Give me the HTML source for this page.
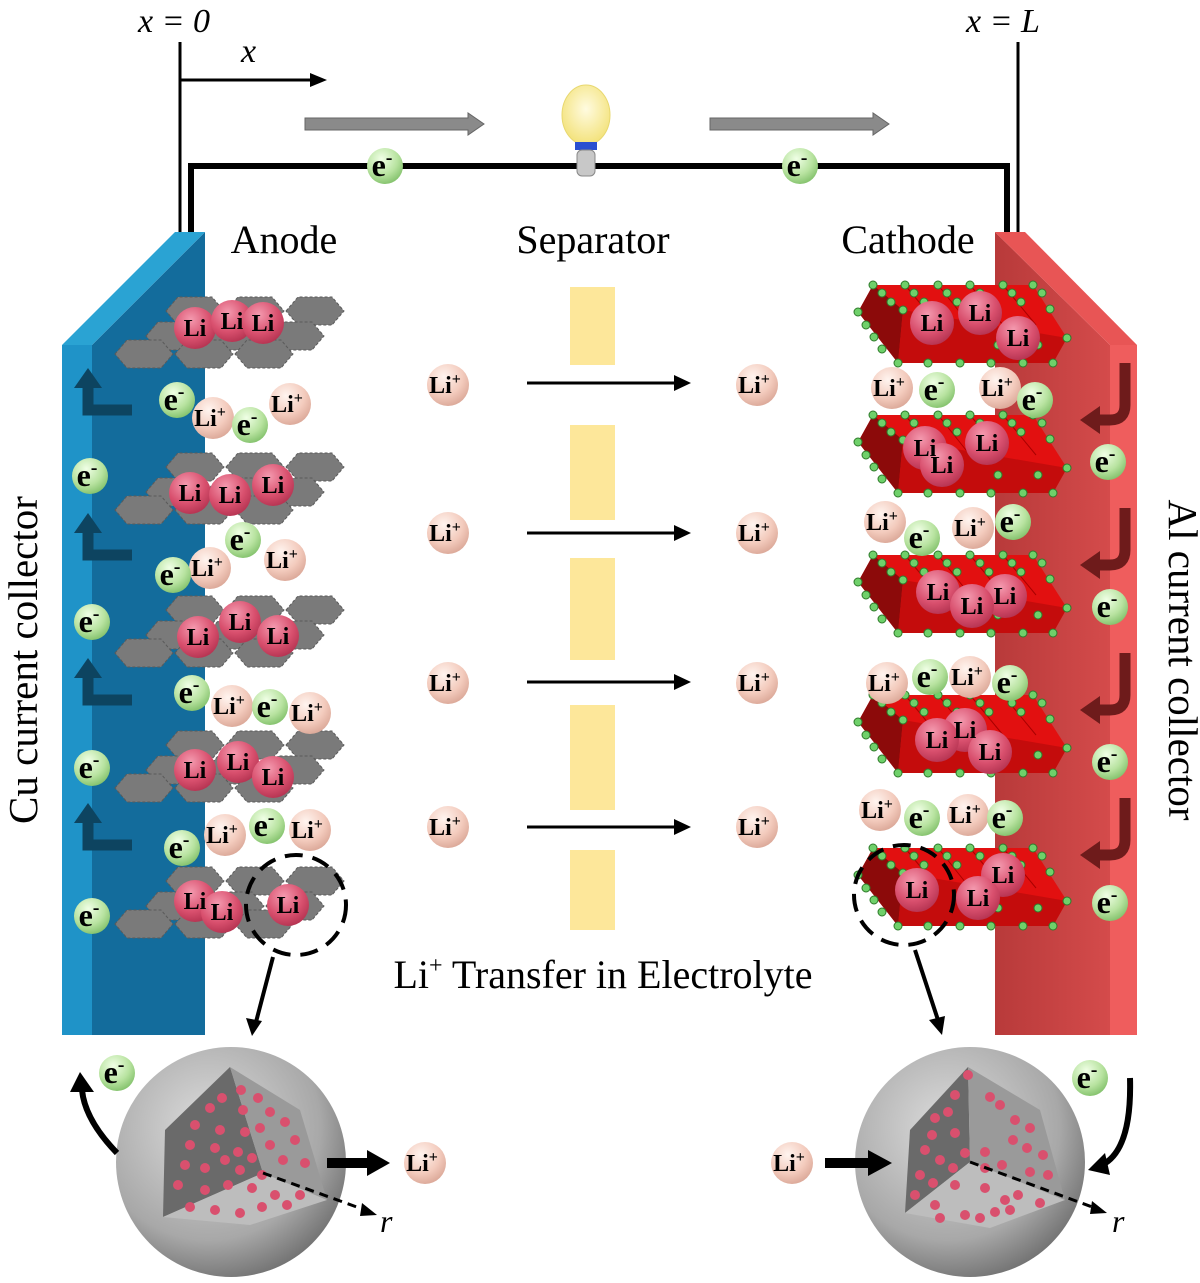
<!DOCTYPE html>
<html><head><meta charset="utf-8"><style>
html,body{margin:0;padding:0;background:#fff}
svg{display:block}
text{font-family:"Liberation Serif",serif}
.b{font-weight:bold;font-size:24px;text-anchor:middle}
.e{font-weight:bold;font-size:32px;text-anchor:middle}
</style></head><body>
<svg width="1200" height="1283" viewBox="0 0 1200 1283" xmlns="http://www.w3.org/2000/svg">
<defs>
<radialGradient id="gLi" cx="0.4" cy="0.3" r="0.75"><stop offset="0" stop-color="#f49aaf"/><stop offset="0.6" stop-color="#d9506e"/><stop offset="1" stop-color="#b2314f"/></radialGradient>
<radialGradient id="gLp" cx="0.4" cy="0.3" r="0.75"><stop offset="0" stop-color="#fff4ef"/><stop offset="0.6" stop-color="#f3cbbd"/><stop offset="1" stop-color="#d9a595"/></radialGradient>
<radialGradient id="gE" cx="0.4" cy="0.3" r="0.75"><stop offset="0" stop-color="#f0ffe6"/><stop offset="0.6" stop-color="#b8e3a0"/><stop offset="1" stop-color="#7fbf68"/></radialGradient>
<radialGradient id="gS" cx="0.4" cy="0.35" r="0.7"><stop offset="0" stop-color="#dcdcdc"/><stop offset="0.7" stop-color="#a8a8a8"/><stop offset="1" stop-color="#6e6e6e"/></radialGradient>
<radialGradient id="gB" cx="0.5" cy="0.4" r="0.6"><stop offset="0" stop-color="#fffbe0"/><stop offset="1" stop-color="#f3e27a"/></radialGradient>
<linearGradient id="gRed" x1="0" x2="1"><stop offset="0" stop-color="#b83a3a"/><stop offset="1" stop-color="#d44b4b"/></linearGradient>
<g id="sheet" fill="#7a7a7a" stroke="#5a5a5a" stroke-width="1" stroke-dasharray="3,2">
<polygon points="51,15 63,1 97,1 109,15 97,29 63,29"/>
<polygon points="111,15 123,1 157,1 169,15 157,29 123,29"/>
<polygon points="171,15 183,1 217,1 229,15 217,29 183,29"/>
<polygon points="31,40 43,26 77,26 89,40 77,54 43,54"/>
<polygon points="91,40 103,26 137,26 149,40 137,54 103,54"/>
<polygon points="151,40 163,26 197,26 209,40 197,54 163,54"/>
<polygon points="0,58 12,44 46,44 58,58 46,72 12,72"/>
<polygon points="60,58 72,44 106,44 118,58 106,72 72,72"/>
<polygon points="120,58 132,44 166,44 178,58 166,72 132,72"/>
</g>
<g id="prism">
<polygon points="15,0 175,0 209,53 195,78 40,78 0,27" fill="#e21010"/>
<polygon points="0,27 15,0 45,25 40,78" fill="#8c0a0a"/>
<polygon points="45,25 209,53 195,78 40,78" fill="#c40c0c"/>
<g stroke="#a00" stroke-width="1" fill="none"><path d="M47,0 L80,40 M80,0 L112,40 M112,0 L145,40 M145,0 L178,40"/></g>
<g fill="#6fd06a" stroke="#2e7a2a" stroke-width="1">
<circle cx="15" cy="0" r="4"/><circle cx="47" cy="0" r="4"/><circle cx="80" cy="0" r="4"/><circle cx="112" cy="0" r="4"/><circle cx="145" cy="0" r="4"/><circle cx="175" cy="0" r="4"/>
<circle cx="24" cy="8" r="4"/><circle cx="56" cy="8" r="4"/><circle cx="89" cy="8" r="4"/><circle cx="122" cy="8" r="4"/><circle cx="154" cy="8" r="4"/><circle cx="184" cy="8" r="4"/>
<circle cx="33" cy="17" r="4"/><circle cx="66" cy="17" r="4"/><circle cx="99" cy="17" r="4"/><circle cx="131" cy="17" r="4"/><circle cx="163" cy="17" r="4"/><circle cx="192" cy="24" r="4"/>
<circle cx="0" cy="27" r="4"/><circle cx="8" cy="40" r="4"/><circle cx="16" cy="52" r="4"/><circle cx="24" cy="64" r="4"/><circle cx="209" cy="53" r="4"/>
<circle cx="40" cy="78" r="4"/><circle cx="70" cy="78" r="4"/><circle cx="102" cy="78" r="4"/><circle cx="133" cy="78" r="4"/><circle cx="165" cy="78" r="4"/><circle cx="195" cy="78" r="4"/>
<circle cx="45" cy="25" r="4"/><circle cx="180" cy="60" r="4"/><circle cx="140" cy="60" r="4"/>
</g>
</g>
</defs>

<text x="138" y="32" font-size="34" font-style="italic">x = 0</text>
<text x="966" y="32" font-size="34" font-style="italic">x = L</text>
<line x1="180" y1="42" x2="180" y2="232" stroke="#000" stroke-width="3"/>
<line x1="1018" y1="42" x2="1018" y2="232" stroke="#000" stroke-width="3"/>
<line x1="180" y1="80" x2="312" y2="80" stroke="#000" stroke-width="3"/>
<polygon points="310,73 327,80 310,87" fill="#000"/>
<text x="241" y="62" font-size="34" font-style="italic">x</text>
<path d="M191,232 V166 H1007 V232" fill="none" stroke="#000" stroke-width="6"/>
<polygon points="305,118 468,118 468,113 484,124 468,135 468,130 305,130" fill="#8a8a8a" stroke="#666"/>
<polygon points="710,118 873,118 873,113 889,124 873,135 873,130 710,130" fill="#8a8a8a" stroke="#666"/>
<ellipse cx="586" cy="115" rx="24" ry="30" fill="url(#gB)" stroke="#e8d870"/>
<rect x="575" y="142" width="22" height="8" fill="#2a4fd0"/>
<rect x="577" y="150" width="18" height="26" rx="5" fill="#c8c8c8" stroke="#888"/>

<polygon points="62,345 92,345 92,1035 62,1035" fill="#1f93c8"/>
<polygon points="92,345 205,232 205,1035 92,1035" fill="#136c9c"/>
<polygon points="62,345 175,232 205,232 92,345" fill="#2aa3d3"/>
<polygon points="995,232 1110,345 1110,1035 995,1035" fill="url(#gRed)"/>
<polygon points="1110,345 1137,345 1137,1035 1110,1035" fill="#ef5d5d"/>
<polygon points="995,232 1025,232 1137,345 1110,345" fill="#e85555"/>

<text x="284" y="253" font-size="40" text-anchor="middle">Anode</text>
<text x="593" y="253" font-size="40" text-anchor="middle">Separator</text>
<text x="908" y="253" font-size="40" text-anchor="middle">Cathode</text>

<g fill="#fde79a"><rect x="570" y="287" width="45" height="78"/><rect x="570" y="425" width="45" height="95"/><rect x="570" y="558" width="45" height="102"/><rect x="570" y="705" width="45" height="105"/><rect x="570" y="850" width="45" height="80"/></g>

<g stroke="#000" stroke-width="3"><line x1="527" y1="383" x2="676" y2="383"/><line x1="527" y1="533" x2="676" y2="533"/><line x1="527" y1="682" x2="676" y2="682"/><line x1="527" y1="827" x2="676" y2="827"/></g>
<g fill="#000"><polygon points="674,375 691,383 674,391"/><polygon points="674,525 691,533 674,541"/><polygon points="674,674 691,682 674,690"/><polygon points="674,819 691,827 674,835"/></g>
<text x="603" y="988" font-size="40" text-anchor="middle">Li<tspan font-size="24" dy="-15">+</tspan><tspan dy="15"> Transfer in Electrolyte</tspan></text>

<text transform="translate(37,660) rotate(-90)" font-size="41" text-anchor="middle">Cu current collector</text>
<text transform="translate(1169,660) rotate(90)" font-size="41" text-anchor="middle">Al current collector</text>

<use href="#sheet" x="115" y="296"/><use href="#sheet" x="115" y="452"/><use href="#sheet" x="115" y="595"/><use href="#sheet" x="115" y="730"/><use href="#sheet" x="115" y="866"/>
<use href="#prism" x="858" y="285"/><use href="#prism" x="858" y="415"/><use href="#prism" x="858" y="555"/><use href="#prism" x="858" y="695"/><use href="#prism" x="858" y="848"/>

<g fill="none" stroke="#0d4460" stroke-width="11">
<path d="M132,410 H88 V386"/><path d="M132,555 H88 V531"/><path d="M132,700 H88 V676"/><path d="M132,845 H88 V821"/>
</g>
<g fill="#0d4460"><polygon points="74,388 102,388 88,368"/><polygon points="74,533 102,533 88,513"/><polygon points="74,678 102,678 88,658"/><polygon points="74,823 102,823 88,803"/></g>
<g fill="none" stroke="#6e1b1b" stroke-width="11">
<path d="M1125,363 V405 Q1125,420 1110,420 H1098"/><path d="M1125,508 V550 Q1125,565 1110,565 H1098"/><path d="M1125,653 V695 Q1125,710 1110,710 H1098"/><path d="M1125,798 V840 Q1125,855 1110,855 H1098"/>
</g>
<g fill="#6e1b1b"><polygon points="1100,406 1100,434 1080,420"/><polygon points="1100,551 1100,579 1080,565"/><polygon points="1100,696 1100,724 1080,710"/><polygon points="1100,841 1100,869 1080,855"/></g>

<g fill="url(#gLi)">
<circle cx="195" cy="328" r="21"/><circle cx="232" cy="321" r="21"/><circle cx="263" cy="323" r="21"/>
<circle cx="190" cy="493" r="21"/><circle cx="230" cy="495" r="21"/><circle cx="273" cy="485" r="21"/>
<circle cx="198" cy="637" r="21"/><circle cx="240" cy="622" r="21"/><circle cx="278" cy="636" r="21"/>
<circle cx="195" cy="770" r="21"/><circle cx="238" cy="762" r="21"/><circle cx="273" cy="777" r="21"/>
<circle cx="195" cy="901" r="21"/><circle cx="222" cy="912" r="21"/><circle cx="288" cy="905" r="21"/>
<circle cx="932" cy="323" r="22"/><circle cx="980" cy="313" r="22"/><circle cx="1018" cy="338" r="22"/>
<circle cx="925" cy="448" r="22"/><circle cx="987" cy="443" r="22"/><circle cx="942" cy="465" r="22"/>
<circle cx="938" cy="592" r="22"/><circle cx="1005" cy="596" r="22"/><circle cx="972" cy="606" r="22"/>
<circle cx="965" cy="730" r="22"/><circle cx="937" cy="740" r="22"/><circle cx="990" cy="752" r="22"/>
<circle cx="917" cy="890" r="22"/><circle cx="1003" cy="875" r="22"/><circle cx="978" cy="898" r="22"/>
</g>
<g>
<text class="b" x="195" y="336">Li</text><text class="b" x="232" y="329">Li</text><text class="b" x="263" y="331">Li</text>
<text class="b" x="190" y="501">Li</text><text class="b" x="230" y="503">Li</text><text class="b" x="273" y="493">Li</text>
<text class="b" x="198" y="645">Li</text><text class="b" x="240" y="630">Li</text><text class="b" x="278" y="644">Li</text>
<text class="b" x="195" y="778">Li</text><text class="b" x="238" y="770">Li</text><text class="b" x="273" y="785">Li</text>
<text class="b" x="195" y="909">Li</text><text class="b" x="222" y="920">Li</text><text class="b" x="288" y="913">Li</text>
<text class="b" x="932" y="331">Li</text><text class="b" x="980" y="321">Li</text><text class="b" x="1018" y="346">Li</text>
<text class="b" x="925" y="456">Li</text><text class="b" x="987" y="451">Li</text><text class="b" x="942" y="473">Li</text>
<text class="b" x="938" y="600">Li</text><text class="b" x="1005" y="604">Li</text><text class="b" x="972" y="614">Li</text>
<text class="b" x="965" y="738">Li</text><text class="b" x="937" y="748">Li</text><text class="b" x="990" y="760">Li</text>
<text class="b" x="917" y="898">Li</text><text class="b" x="1003" y="883">Li</text><text class="b" x="978" y="906">Li</text>
</g>

<g fill="url(#gLp)">
<circle cx="213" cy="418" r="21"/><circle cx="290" cy="404" r="21"/><circle cx="210" cy="568" r="21"/><circle cx="285" cy="560" r="21"/>
<circle cx="232" cy="706" r="21"/><circle cx="310" cy="713" r="21"/><circle cx="225" cy="835" r="21"/><circle cx="310" cy="830" r="21"/>
<circle cx="448" cy="385" r="21"/><circle cx="448" cy="533" r="21"/><circle cx="448" cy="683" r="21"/><circle cx="448" cy="827" r="21"/>
<circle cx="757" cy="385" r="21"/><circle cx="757" cy="533" r="21"/><circle cx="757" cy="683" r="21"/><circle cx="757" cy="827" r="21"/>
<circle cx="892" cy="388" r="21"/><circle cx="1000" cy="388" r="21"/><circle cx="885" cy="522" r="21"/><circle cx="973" cy="528" r="21"/>
<circle cx="887" cy="683" r="21"/><circle cx="970" cy="677" r="21"/><circle cx="880" cy="810" r="21"/><circle cx="968" cy="815" r="21"/>
<circle cx="425" cy="1163" r="21"/><circle cx="792" cy="1163" r="21"/>
</g>
<g>
<text class="b" x="210" y="426">Li<tspan font-size="16" dy="-9">+</tspan></text>
<text class="b" x="287" y="412">Li<tspan font-size="16" dy="-9">+</tspan></text>
<text class="b" x="207" y="576">Li<tspan font-size="16" dy="-9">+</tspan></text>
<text class="b" x="282" y="568">Li<tspan font-size="16" dy="-9">+</tspan></text>
<text class="b" x="229" y="714">Li<tspan font-size="16" dy="-9">+</tspan></text>
<text class="b" x="307" y="721">Li<tspan font-size="16" dy="-9">+</tspan></text>
<text class="b" x="222" y="843">Li<tspan font-size="16" dy="-9">+</tspan></text>
<text class="b" x="307" y="838">Li<tspan font-size="16" dy="-9">+</tspan></text>
<text class="b" x="445" y="393">Li<tspan font-size="16" dy="-9">+</tspan></text>
<text class="b" x="445" y="541">Li<tspan font-size="16" dy="-9">+</tspan></text>
<text class="b" x="445" y="691">Li<tspan font-size="16" dy="-9">+</tspan></text>
<text class="b" x="445" y="835">Li<tspan font-size="16" dy="-9">+</tspan></text>
<text class="b" x="754" y="393">Li<tspan font-size="16" dy="-9">+</tspan></text>
<text class="b" x="754" y="541">Li<tspan font-size="16" dy="-9">+</tspan></text>
<text class="b" x="754" y="691">Li<tspan font-size="16" dy="-9">+</tspan></text>
<text class="b" x="754" y="835">Li<tspan font-size="16" dy="-9">+</tspan></text>
<text class="b" x="889" y="396">Li<tspan font-size="16" dy="-9">+</tspan></text>
<text class="b" x="997" y="396">Li<tspan font-size="16" dy="-9">+</tspan></text>
<text class="b" x="882" y="530">Li<tspan font-size="16" dy="-9">+</tspan></text>
<text class="b" x="970" y="536">Li<tspan font-size="16" dy="-9">+</tspan></text>
<text class="b" x="884" y="691">Li<tspan font-size="16" dy="-9">+</tspan></text>
<text class="b" x="967" y="685">Li<tspan font-size="16" dy="-9">+</tspan></text>
<text class="b" x="877" y="818">Li<tspan font-size="16" dy="-9">+</tspan></text>
<text class="b" x="965" y="823">Li<tspan font-size="16" dy="-9">+</tspan></text>
<text class="b" x="422" y="1171">Li<tspan font-size="16" dy="-9">+</tspan></text>
<text class="b" x="789" y="1171">Li<tspan font-size="16" dy="-9">+</tspan></text>
</g>

<g fill="url(#gE)">
<circle cx="385" cy="166" r="18"/><circle cx="800" cy="166" r="18"/>
<circle cx="177" cy="400" r="18"/><circle cx="250" cy="425" r="18"/><circle cx="243" cy="540" r="18"/><circle cx="173" cy="575" r="18"/>
<circle cx="192" cy="693" r="18"/><circle cx="270" cy="707" r="18"/><circle cx="182" cy="848" r="18"/><circle cx="267" cy="826" r="18"/>
<circle cx="90" cy="476" r="18"/><circle cx="92" cy="622" r="18"/><circle cx="92" cy="768" r="18"/><circle cx="92" cy="916" r="18"/>
<circle cx="937" cy="390" r="18"/><circle cx="1035" cy="400" r="18"/><circle cx="922" cy="538" r="18"/><circle cx="1013" cy="522" r="18"/>
<circle cx="930" cy="677" r="18"/><circle cx="1010" cy="683" r="18"/><circle cx="922" cy="818" r="18"/><circle cx="1005" cy="818" r="18"/>
<circle cx="1108" cy="462" r="18"/><circle cx="1110" cy="607" r="18"/><circle cx="1110" cy="762" r="18"/><circle cx="1110" cy="903" r="18"/>
<circle cx="117" cy="1073" r="18"/><circle cx="1090" cy="1078" r="18"/>
</g>
<g>
<text class="e" x="382" y="176">e<tspan font-size="20" dy="-12">-</tspan></text>
<text class="e" x="797" y="176">e<tspan font-size="20" dy="-12">-</tspan></text>
<text class="e" x="174" y="410">e<tspan font-size="20" dy="-12">-</tspan></text>
<text class="e" x="247" y="435">e<tspan font-size="20" dy="-12">-</tspan></text>
<text class="e" x="240" y="550">e<tspan font-size="20" dy="-12">-</tspan></text>
<text class="e" x="170" y="585">e<tspan font-size="20" dy="-12">-</tspan></text>
<text class="e" x="189" y="703">e<tspan font-size="20" dy="-12">-</tspan></text>
<text class="e" x="267" y="717">e<tspan font-size="20" dy="-12">-</tspan></text>
<text class="e" x="179" y="858">e<tspan font-size="20" dy="-12">-</tspan></text>
<text class="e" x="264" y="836">e<tspan font-size="20" dy="-12">-</tspan></text>
<text class="e" x="87" y="486">e<tspan font-size="20" dy="-12">-</tspan></text>
<text class="e" x="89" y="632">e<tspan font-size="20" dy="-12">-</tspan></text>
<text class="e" x="89" y="778">e<tspan font-size="20" dy="-12">-</tspan></text>
<text class="e" x="89" y="926">e<tspan font-size="20" dy="-12">-</tspan></text>
<text class="e" x="934" y="400">e<tspan font-size="20" dy="-12">-</tspan></text>
<text class="e" x="1032" y="410">e<tspan font-size="20" dy="-12">-</tspan></text>
<text class="e" x="919" y="548">e<tspan font-size="20" dy="-12">-</tspan></text>
<text class="e" x="1010" y="532">e<tspan font-size="20" dy="-12">-</tspan></text>
<text class="e" x="927" y="687">e<tspan font-size="20" dy="-12">-</tspan></text>
<text class="e" x="1007" y="693">e<tspan font-size="20" dy="-12">-</tspan></text>
<text class="e" x="919" y="828">e<tspan font-size="20" dy="-12">-</tspan></text>
<text class="e" x="1002" y="828">e<tspan font-size="20" dy="-12">-</tspan></text>
<text class="e" x="1105" y="472">e<tspan font-size="20" dy="-12">-</tspan></text>
<text class="e" x="1107" y="617">e<tspan font-size="20" dy="-12">-</tspan></text>
<text class="e" x="1107" y="772">e<tspan font-size="20" dy="-12">-</tspan></text>
<text class="e" x="1107" y="913">e<tspan font-size="20" dy="-12">-</tspan></text>
<text class="e" x="114" y="1083">e<tspan font-size="20" dy="-12">-</tspan></text>
<text class="e" x="1087" y="1088">e<tspan font-size="20" dy="-12">-</tspan></text>
</g>

<circle cx="296" cy="905" r="50" fill="none" stroke="#000" stroke-width="4" stroke-dasharray="18,10"/>
<circle cx="904" cy="895" r="50" fill="none" stroke="#000" stroke-width="4" stroke-dasharray="18,10"/>

<circle cx="231" cy="1162" r="115" fill="url(#gS)"/>
<polygon points="230,1067 263,1173 163,1217 165,1130" fill="#6a6a6a"/>
<polygon points="230,1067 300,1110 327,1200 263,1173" fill="#9a9a9a"/>
<polygon points="163,1217 263,1173 327,1200 250,1225" fill="#bdbdbd"/>
<circle cx="970" cy="1162" r="115" fill="url(#gS)"/>
<polygon points="968,1067 970,1162 905,1213 910,1130" fill="#6a6a6a"/>
<polygon points="968,1067 1040,1110 1065,1200 970,1162" fill="#9a9a9a"/>
<polygon points="905,1213 970,1162 1065,1200 990,1228" fill="#bdbdbd"/>
<g fill="#d9506e">
<circle cx="222" cy="1098" r="5"/><circle cx="241" cy="1090" r="5"/><circle cx="258" cy="1098" r="5"/><circle cx="210" cy="1108" r="5"/><circle cx="243" cy="1110" r="5"/><circle cx="270" cy="1112" r="5"/>
<circle cx="195" cy="1125" r="5"/><circle cx="220" cy="1130" r="5"/><circle cx="245" cy="1132" r="5"/><circle cx="260" cy="1128" r="5"/><circle cx="285" cy="1122" r="5"/>
<circle cx="190" cy="1145" r="5"/><circle cx="215" cy="1148" r="5"/><circle cx="225" cy="1160" r="5"/><circle cx="238" cy="1152" r="5"/><circle cx="252" cy="1158" r="5"/><circle cx="270" cy="1145" r="5"/><circle cx="295" cy="1140" r="5"/>
<circle cx="185" cy="1165" r="5"/><circle cx="205" cy="1168" r="5"/><circle cx="240" cy="1170" r="5"/><circle cx="262" cy="1175" r="5"/><circle cx="283" cy="1160" r="5"/><circle cx="305" cy="1163" r="5"/>
<circle cx="178" cy="1185" r="5"/><circle cx="205" cy="1190" r="5"/><circle cx="228" cy="1185" r="5"/><circle cx="252" cy="1188" r="5"/><circle cx="275" cy="1195" r="5"/><circle cx="300" cy="1195" r="5"/>
<circle cx="190" cy="1207" r="5"/><circle cx="215" cy="1210" r="5"/><circle cx="240" cy="1213" r="5"/><circle cx="262" cy="1207" r="5"/><circle cx="287" cy="1205" r="5"/>
<circle cx="968" cy="1075" r="5"/><circle cx="955" cy="1095" r="5"/><circle cx="990" cy="1097" r="5"/><circle cx="1000" cy="1105" r="5"/><circle cx="935" cy="1118" r="5"/><circle cx="948" cy="1112" r="5"/>
<circle cx="932" cy="1135" r="5"/><circle cx="955" cy="1133" r="5"/><circle cx="1015" cy="1120" r="5"/><circle cx="1030" cy="1128" r="5"/><circle cx="1013" cy="1140" r="5"/>
<circle cx="925" cy="1150" r="5"/><circle cx="940" cy="1160" r="5"/><circle cx="965" cy="1153" r="5"/><circle cx="985" cy="1152" r="5"/><circle cx="1027" cy="1148" r="5"/><circle cx="1043" cy="1155" r="5"/>
<circle cx="920" cy="1175" r="5"/><circle cx="933" cy="1183" r="5"/><circle cx="953" cy="1168" r="5"/><circle cx="985" cy="1168" r="5"/><circle cx="1002" cy="1165" r="5"/><circle cx="1030" cy="1172" r="5"/><circle cx="1048" cy="1175" r="5"/>
<circle cx="915" cy="1195" r="5"/><circle cx="935" cy="1205" r="5"/><circle cx="955" cy="1185" r="5"/><circle cx="985" cy="1188" r="5"/><circle cx="1005" cy="1200" r="5"/><circle cx="1018" cy="1195" r="5"/><circle cx="1040" cy="1203" r="5"/>
<circle cx="940" cy="1218" r="5"/><circle cx="965" cy="1215" r="5"/><circle cx="980" cy="1218" r="5"/><circle cx="995" cy="1212" r="5"/><circle cx="1010" cy="1210" r="5"/>
</g>

<line x1="273" y1="957" x2="256" y2="1022" stroke="#000" stroke-width="4"/>
<polygon points="246,1018 262,1021 252,1036" fill="#000"/>
<line x1="915" y1="950" x2="938" y2="1020" stroke="#000" stroke-width="4"/>
<polygon points="929,1020 945,1016 942,1035" fill="#000"/>
<path d="M117,1153 Q85,1120 82,1090" fill="none" stroke="#000" stroke-width="6"/>
<polygon points="70,1092 94,1092 80,1072" fill="#000"/>
<rect x="327" y="1158" width="42" height="10" fill="#000"/><polygon points="367,1150 390,1163 367,1176" fill="#000"/>
<rect x="825" y="1158" width="45" height="10" fill="#000"/><polygon points="868,1150 892,1163 868,1176" fill="#000"/>
<path d="M1130,1078 Q1132,1150 1102,1165" fill="none" stroke="#000" stroke-width="6"/>
<polygon points="1105,1153 1110,1175 1088,1170" fill="#000"/>
<line x1="263" y1="1173" x2="365" y2="1210" stroke="#000" stroke-width="3" stroke-dasharray="9,6"/>
<polygon points="362,1203 377,1215 360,1216" fill="#000"/>
<text x="380" y="1232" font-size="32" font-style="italic">r</text>
<line x1="970" y1="1162" x2="1095" y2="1208" stroke="#000" stroke-width="3" stroke-dasharray="9,6"/>
<polygon points="1092,1201 1107,1213 1090,1214" fill="#000"/>
<text x="1112" y="1232" font-size="32" font-style="italic">r</text>
</svg>
</body></html>
